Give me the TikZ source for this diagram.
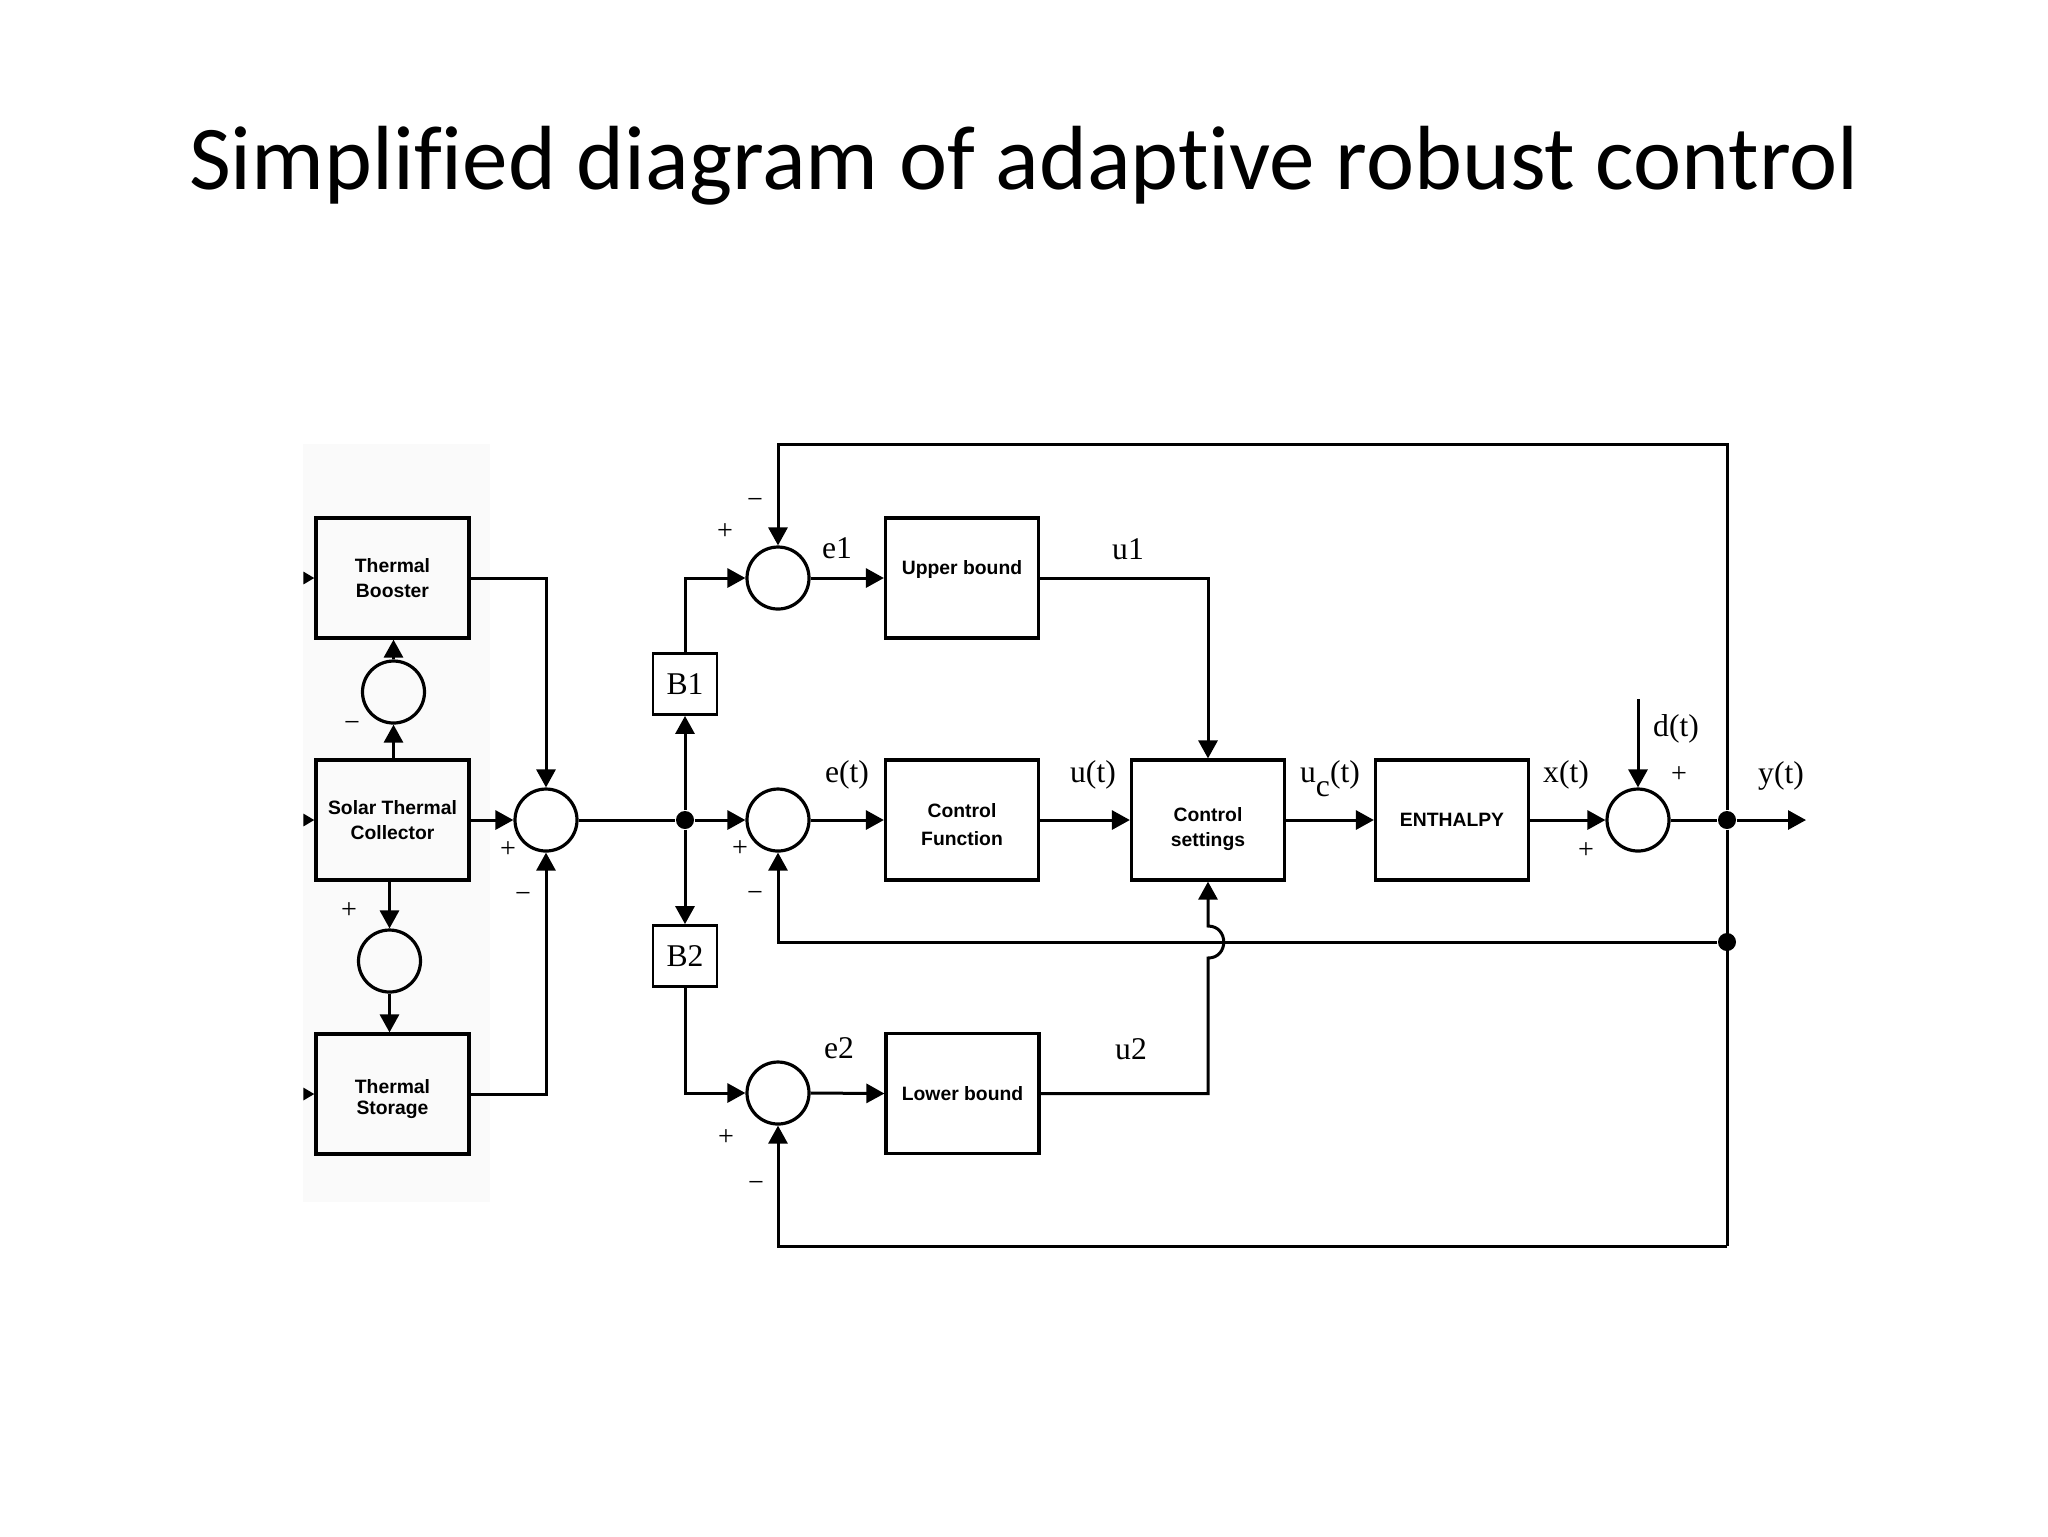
\documentclass[tikz,border=0pt]{standalone}
\usepackage{fontspec}
\setmainfont{Liberation Serif}
\newfontfamily\carlito[Ligatures=NoCommon]{Carlito}
\newfontfamily\arialf{Liberation Sans}
\usetikzlibrary{arrows.meta}
\tikzset{
  lw/.style={line width=0.3mm},
  arr/.style={lw,-{Triangle[length=1.8mm,width=1.9mm]}},
  tinyarr/.style={lw,-{Triangle[length=1.1mm,width=1.2mm]}},
  blk/.style={draw,line width=0.32mm,minimum width=15.3mm,minimum height=12.0mm,inner sep=0pt,align=center,
    font=\arialf\bfseries\fontsize{5.5}{7.2}\selectfont},
  bbox/.style={draw,line width=0.28mm,minimum width=6.4mm,minimum height=6.1mm,inner sep=0pt,
    font=\fontsize{9}{10}\selectfont},
  sumc/.style={draw,circle,line width=0.32mm,minimum size=6.2mm,inner sep=0pt},
  dotn/.style={circle,fill=black,minimum size=1.8mm,inner sep=0pt},
  lbl/.style={inner sep=0pt,font=\fontsize{9}{10}\selectfont},
  sgn/.style={inner sep=0pt,font=\fontsize{8}{9}\selectfont},
}
\begin{document}
\begin{tikzpicture}[x=0.1mm,y=-0.1mm]
\useasboundingbox (0,0) rectangle (2048,1536);
\fill[black!2] (303,444) rectangle (490,1202);
% title
\node[anchor=base,inner sep=0pt] (title) at (1024,189)
  {\resizebox{167mm}{!}{\carlito\fontsize{28}{30}\selectfont Simplified diagram of adaptive robust control}};
% left blocks
\node[blk] (boost) at (392.5,578) {Thermal\\Booster};
\node[blk] (coll) at (392.5,820) {Solar Thermal\\Collector};
\node[blk] (stor) at (392.5,1094) {\raisebox{-0.9mm}[0pt][0pt]{\begin{tabular}{@{}c@{}}Thermal\\[-1.2pt]Storage\end{tabular}}};
\node[sumc] (c1) at (393.5,692) {};
\node[sumc] (c2) at (389.5,961) {};
\node[sumc] (sumL) at (546,820) {};
\coordinate (inA) at (305,578);
\coordinate (inB) at (305,820);
\coordinate (inC) at (305,1094);
% middle
\node[dotn] (dot1) at (685,820) {};
\node[bbox] (B1) at (685,684) {B1};
\node[bbox] (B2) at (685,956) {B2};
\node[sumc] (s1) at (778,578) {};
\node[sumc] (s2) at (778,820) {};
\node[sumc] (s3) at (778,1093) {};
\node[blk] (ub) at (962,578) {\raisebox{0.35mm}[0pt][0pt]{Upper bound}};
\node[blk] (cf) at (962,820) {\raisebox{-1.1mm}[0pt][0pt]{\begin{tabular}{@{}c@{}}Control\\[0.6pt]Function\end{tabular}}};
\node[blk] (lb) at (962.5,1093.5) {Lower bound};
\node[blk] (cs) at (1208,820) {\raisebox{-1.3mm}[0pt][0pt]{\begin{tabular}{@{}c@{}}Control\\settings\end{tabular}}};
\node[blk] (en) at (1452,820) {ENTHALPY};
\node[sumc] (s4) at (1638,820) {};
\coordinate (dtop) at (1638,699);
\node[dotn] (dotA) at (1727,820) {};
\node[dotn] (dotB) at (1727,942) {};
\coordinate (yout) at (1806,820);
\coordinate (cTR) at (1727,444);
\coordinate (cBR) at (1727,1246);
\coordinate (hopBot) at (1208,958);
\coordinate (hopTop) at (1208,926);
% left connections
\draw[tinyarr] (inA) -- (boost.west);
\draw[tinyarr] (inB) -- (coll.west);
\draw[tinyarr] (inC) -- (stor.west);
\draw[arr] (c1 |- coll.north) -- (c1.south);
\draw[arr] (c1.north) -- (c1 |- boost.south);
\draw[arr] (c2 |- coll.south) -- (c2.north);
\draw[arr] (c2.south) -- (c2 |- stor.north);
\draw[arr] (boost.east) -| (sumL.north);
\draw[arr] (stor.east) -| (sumL.south);
\draw[arr] (coll.east) -- (sumL.west);
\draw[lw] (sumL.east) -- (dot1);
\draw[arr] (dot1) -- (s2.west);
\draw[arr] (dot1) -- (B1.south);
\draw[arr] (B1.north) |- (s1.west);
\draw[arr] (dot1) -- (B2.north);
\draw[arr] (B2.south) |- (s3.west);
\draw[arr] (s1.east) -- (ub.west);
\draw[arr] (s2.east) -- (cf.west);
\draw[arr] (s3.east) -- (lb.west);
\draw[arr] (ub.east) -| (cs.north);
\draw[arr] (cf.east) -- (cs.west);
\draw[arr] (cs.east) -- (en.west);
\draw[arr] (en.east) -- (s4.west);
\draw[arr] (dtop) -- (s4.north);
\draw[lw] (s4.east) -- (dotA);
\draw[arr] (dotA) -- (yout);
\draw[arr] (dotA) -- (cTR) -| (s1.north);
\draw[lw] (dotA) -- (cBR);
\draw[arr] (cBR) -| (s3.south);
\draw[arr] (dotB) -| (s2.south);
\draw[arr] (lb.east) -| (hopBot) .. controls (1229,958) and (1229,926) .. (hopTop) -- (cs.south);
% signal labels
\node[lbl] (le1) at (837,548) {e1};
\node[lbl] (let) at (847,775) {e(t)};
\node[lbl] (le2) at (839,1048) {e2};
\node[lbl] (lu1) at (1128,549) {u1};
\node[lbl] (lut) at (1093,775) {u(t)};
\node[lbl] (lu2) at (1131,1049) {u2};
\node[lbl] (luc) at (1330,779) {u\raisebox{-1.4mm}{c}(t)};
\node[lbl] (lxt) at (1566,775) {x(t)};
\node[lbl] (ldt) at (1676,729) {d(t)};
\node[lbl] (lyt) at (1781,776) {y(t)};
% signs
\node[sgn] (p1) at (352,726) {−};
\node[sgn] (p2) at (349,911) {+};
\node[sgn] (p3) at (508,850) {+};
\node[sgn] (p4) at (523,897) {−};
\node[sgn] (p5) at (725,532) {+};
\node[sgn] (p6) at (755,503) {−};
\node[sgn] (p7) at (740,849) {+};
\node[sgn] (p8) at (755,896) {−};
\node[sgn] (p9) at (726,1138) {+};
\node[sgn] (p10) at (756,1186) {−};
\node[sgn] (p11) at (1679,775) {+};
\node[sgn] (p12) at (1586,851) {+};
\end{tikzpicture}
\end{document}
